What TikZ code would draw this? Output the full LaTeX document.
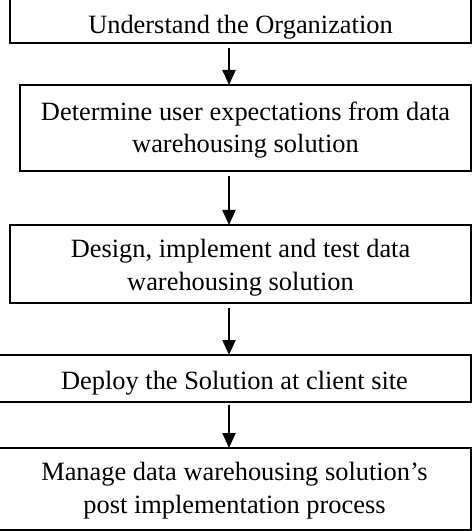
\documentclass[tikz,border=0pt]{standalone}
\usepackage{fontspec}
\setmainfont{Liberation Serif}
\usetikzlibrary{arrows.meta}
\begin{document}
\begin{tikzpicture}[x=1bp,y=-1bp,
  stepbox/.style={draw=black, line width=2.2bp, fill=white, align=center,
    inner sep=0pt, outer sep=0pt,
    font=\fontsize{26.4bp}{32.5bp}\selectfont},
  flow/.style={line width=2bp, -{Triangle[width=13bp,length=15bp]}, shorten <=5bp}
]
\useasboundingbox (0,0) rectangle (474,531);
\fill[white] (0,0) rectangle (474,531);
\node[stepbox, minimum width=461bp, minimum height=47bp, text height=29bp, text depth=0bp] (b1) at (240.5,19.5) {Understand the Organization};
\node[stepbox, minimum width=451bp, minimum height=86bp, text height=51bp, text depth=1bp] (b2) at (245.5,128) {Determine user expectations from data\\warehousing solution};
\node[stepbox, minimum width=461bp, minimum height=78bp, text height=52bp, text depth=0bp] (b3) at (240.5,264) {Design, implement and test data\\warehousing solution};
\node[stepbox, minimum width=473bp, minimum height=47bp, text height=21bp, text depth=0bp] (b4) at (234.5,378.5) {Deploy the Solution at client site};
\node[stepbox, minimum width=473bp, minimum height=82bp, text height=50bp, text depth=2bp] (b5) at (234.5,489) {Manage data warehousing solution’s\\post implementation process};
\coordinate (ax) at (229,0);
\draw[flow] (b1.south -| ax) -- (b2.north -| ax);
\draw[flow] (b2.south -| ax) -- (b3.north -| ax);
\draw[flow] (b3.south -| ax) -- (b4.north -| ax);
\draw[flow, shorten <=3bp] (b4.south -| ax) -- (b5.north -| ax);
\end{tikzpicture}
\end{document}
